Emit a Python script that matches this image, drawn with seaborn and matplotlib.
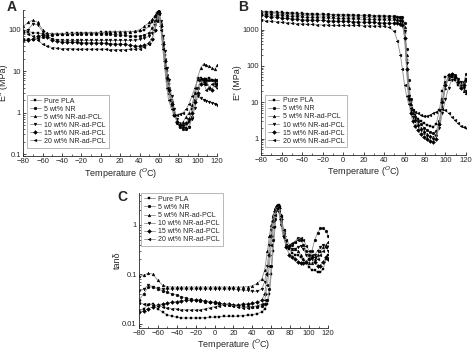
import matplotlib
matplotlib.use('Agg')
import matplotlib.pyplot as plt
import matplotlib.ticker as mticker
import pandas as pd
import seaborn as sns

# Temperature grid (deg C), shared by all curves
temps = [-80, -75, -70, -65, -60, -55, -50, -45, -40, -35, -30, -25, -20, -15, -10, -5, 0, 5, 10, 15, 20,
         25, 30, 35, 40, 45, 50,
         53, 56, 58, 60, 62, 64, 66, 68, 70,
         73, 76, 79, 82, 85, 88, 91, 94, 97, 100, 103, 106, 109, 112, 115, 118, 120]

labels = ['Pure PLA', '5 wt% NR', '5 wt% NR-ad-PCL', '10 wt% NR-ad-PCL', '15 wt% NR-ad-PCL',
          '20 wt% NR-ad-PCL']

# Panel A: loss modulus E'' (MPa)
loss_pla = [95, 90, 85, 82, 80, 80, 80, 80, 80, 81, 82, 83, 84, 85, 85, 85, 86, 87, 88, 88, 89, 89, 90, 90, 92, 100, 120,
            150, 200, 250, 280, 150, 60, 25, 10, 5,
            2, 1, 0.6, 0.45, 0.42, 0.42, 0.6, 1.2, 3, 7, 7, 6, 6.5, 7, 6, 5, 5]
loss_nr5 = [60, 58, 58, 62, 65, 70, 75, 77, 78, 78, 79, 79, 80, 80, 80, 80, 80, 79, 78, 76, 75, 73, 70, 70, 70, 75, 85,
            110, 160, 220, 270, 140, 50, 20, 8, 4,
            1.8, 0.9, 0.55, 0.45, 0.4, 0.4, 0.45, 0.8, 2, 4, 6, 5.5, 5, 6, 6, 5.5, 6]
loss_pcl5 = [120, 150, 170, 150, 100, 82, 80, 80, 80, 80, 80, 81, 82, 83, 84, 85, 85, 86, 88, 89, 90, 90, 90, 92, 100,
             120, 150,
             180, 220, 260, 280, 130, 40, 14, 6, 3,
             1.5, 0.9, 0.6, 0.55, 0.6, 0.8, 1.0, 1.5, 3, 7, 12, 15, 14, 13, 12, 11, 14]
loss_pcl10 = [95, 100, 140, 130, 90, 70, 60, 57, 56, 55, 55, 55, 55, 55, 55, 55, 55, 55, 55, 55, 55, 55, 55, 56, 58, 62,
              70,
              85, 130, 190, 260, 160, 70, 30, 12, 6,
              2.5, 1.2, 0.7, 0.5, 0.42, 0.4, 0.45, 0.7, 1.3, 2.5, 2.2, 2, 1.9, 1.8, 1.7, 1.6, 1.5]
loss_pcl15 = [55, 55, 60, 70, 75, 65, 55, 52, 50, 50, 50, 50, 49, 49, 48, 48, 48, 47, 46, 45, 45, 44, 42, 41, 40, 42, 48,
              60, 100, 170, 250, 120, 45, 18, 7, 3.5,
              1.6, 0.9, 0.6, 0.5, 0.5, 0.55, 0.7, 1.0, 1.8, 3, 5, 6.5, 6, 4, 3.5, 6, 5]
loss_pcl20 = [90, 80, 70, 55, 45, 40, 37, 36, 35, 35, 35, 34, 34, 34, 34, 34, 34, 34, 33, 33, 33, 33, 34, 34, 35, 38, 45,
              60, 100, 160, 240, 100, 35, 12, 4, 2,
              1.2, 0.9, 0.9, 0.95, 1.0, 1.2, 1.6, 2.5, 4, 6, 6.5, 5, 3.5, 4, 5, 4.5, 4]

# Panel B: storage modulus E' (MPa)
stor_pla = [3200, 3150, 3100, 3050, 3000, 2950, 2900, 2850, 2800, 2750, 2700, 2650, 2650, 2600, 2600, 2550, 2550, 2500,
            2500, 2450, 2450, 2400, 2400, 2350, 2350, 2300, 2250,
            2200, 2100, 1800, 800, 150, 25, 10, 6, 4.5,
            3.5, 3, 2.6, 2.4, 2.2, 2.1, 2.5, 6, 20, 50, 55, 50, 40, 30, 25, 28, 45]
stor_nr5 = [3100, 3050, 3000, 2950, 2900, 2850, 2800, 2750, 2750, 2700, 2700, 2650, 2650, 2650, 2600, 2600, 2600, 2550,
            2550, 2500, 2500, 2500, 2450, 2450, 2400, 2400, 2350,
            2300, 2250, 2200, 1500, 300, 40, 12, 6, 4,
            3, 2.5, 2, 1.7, 1.5, 1.4, 1.6, 3, 12, 35, 50, 60, 55, 40, 30, 35, 60]
stor_pcl5 = [2900, 2850, 2800, 2700, 2650, 2600, 2550, 2500, 2450, 2450, 2400, 2400, 2350, 2350, 2300, 2300, 2300, 2250,
             2250, 2200, 2200, 2150, 2150, 2100, 2100, 2050, 2050,
             2000, 1900, 1800, 1200, 200, 25, 9, 5, 3.5,
             2.5, 2, 1.6, 1.3, 1.2, 1.1, 1.3, 2.5, 8, 25, 45, 55, 50, 40, 30, 20, 18]
stor_pcl10 = [2700, 2600, 2500, 2450, 2400, 2350, 2300, 2250, 2200, 2150, 2150, 2100, 2100, 2050, 2050, 2000, 2000, 2000,
              1950, 1950, 1900, 1900, 1900, 1850, 1850, 1800, 1800,
              1750, 1700, 1600, 900, 120, 15, 6, 4, 3,
              2.2, 1.7, 1.4, 1.2, 1.1, 1.0, 1.2, 2, 5, 12, 25, 40, 50, 45, 35, 25, 20]
stor_pcl15 = [2500, 2400, 2300, 2200, 2100, 2050, 2000, 1950, 1900, 1850, 1850, 1800, 1800, 1750, 1750, 1700, 1700, 1700,
              1650, 1650, 1600, 1600, 1600, 1550, 1550, 1500, 1500,
              1500, 1450, 1350, 600, 80, 12, 5, 3, 2.2,
              1.7, 1.3, 1.1, 0.95, 0.85, 0.8, 1.0, 2.5, 10, 30, 55, 60, 50, 35, 25, 30, 40]
stor_pcl20 = [1800, 1750, 1700, 1650, 1600, 1550, 1500, 1450, 1450, 1400, 1400, 1350, 1350, 1350, 1300, 1300, 1300, 1300,
              1300, 1300, 1280, 1280, 1260, 1250, 1250, 1150, 900,
              500, 200, 80, 30, 15, 9, 7, 6, 5.5,
              5, 4.5, 4.2, 4.2, 4.5, 5, 5.5, 6, 6.5, 6, 5, 4, 3.2, 2.6, 2.2, 2.1, 2.0]

# Panel C: tan delta
tan_pla = [0.018, 0.02, 0.024, 0.025, 0.02, 0.017, 0.015, 0.014, 0.0135, 0.013, 0.013, 0.013, 0.013, 0.013, 0.0132,
           0.0134, 0.0135, 0.0138, 0.014, 0.014, 0.014, 0.0142, 0.0145, 0.0148, 0.015, 0.016, 0.017,
           0.02, 0.025, 0.04, 0.1, 0.3, 0.9, 2.0, 2.5, 1.6,
           0.8, 0.45, 0.32, 0.27, 0.25, 0.24, 0.22, 0.2, 0.17, 0.14, 0.12, 0.12, 0.11, 0.11, 0.13, 0.2, 0.25]
tan_nr5 = [0.03, 0.04, 0.055, 0.055, 0.05, 0.046, 0.043, 0.04, 0.038, 0.035, 0.033, 0.031, 0.03, 0.029, 0.028, 0.027,
           0.026, 0.025, 0.025, 0.024, 0.024, 0.023, 0.023, 0.022, 0.022, 0.022, 0.023,
           0.025, 0.03, 0.05, 0.15, 0.5, 1.3, 2.3, 2.4, 1.5,
           0.7, 0.4, 0.35, 0.4, 0.45, 0.55, 0.5, 0.4, 0.3, 0.25, 0.3, 0.5, 0.7, 0.85, 0.85, 0.75, 0.6]
tan_pcl5 = [0.09, 0.095, 0.105, 0.1, 0.075, 0.06, 0.056, 0.055, 0.055, 0.055, 0.055, 0.055, 0.055, 0.055, 0.055, 0.055,
            0.055, 0.055, 0.055, 0.055, 0.055, 0.055, 0.055, 0.056, 0.058, 0.065, 0.08,
            0.12, 0.3, 0.6, 1.0, 1.6, 2.2, 2.5, 2.0, 1.2,
            0.6, 0.4, 0.35, 0.33, 0.33, 0.3, 0.25, 0.2, 0.18, 0.17, 0.17, 0.2, 0.25, 0.3, 0.35, 0.4, 0.45]
tan_pcl10 = [0.045, 0.05, 0.06, 0.056, 0.052, 0.05, 0.05, 0.05, 0.05, 0.05, 0.05, 0.05, 0.05, 0.05, 0.05, 0.05, 0.05,
             0.05, 0.05, 0.05, 0.05, 0.049, 0.048, 0.047, 0.045, 0.045, 0.05,
             0.07, 0.15, 0.4, 0.8, 1.4, 2.0, 2.4, 1.8, 1.0,
             0.55, 0.4, 0.35, 0.33, 0.33, 0.35, 0.38, 0.33, 0.25, 0.2, 0.2, 0.25, 0.3, 0.35, 0.4, 0.35, 0.3]
tan_pcl15 = [0.017, 0.018, 0.02, 0.022, 0.024, 0.025, 0.026, 0.027, 0.028, 0.029, 0.03, 0.03, 0.03, 0.03, 0.029, 0.028,
             0.027, 0.026, 0.025, 0.025, 0.024, 0.024, 0.025, 0.025, 0.026, 0.027, 0.03,
             0.04, 0.1, 0.25, 0.6, 1.2, 1.9, 2.4, 2.2, 1.3,
             0.6, 0.35, 0.25, 0.22, 0.2, 0.18, 0.17, 0.17, 0.18, 0.2, 0.22, 0.18, 0.15, 0.15, 0.18, 0.22, 0.2]
tan_pcl20 = [0.026, 0.025, 0.025, 0.024, 0.023, 0.022, 0.021, 0.02, 0.02, 0.019, 0.019, 0.019, 0.019, 0.019, 0.02,
             0.021, 0.022, 0.023, 0.024, 0.024, 0.023, 0.022, 0.021, 0.021, 0.022, 0.023, 0.025,
             0.03, 0.06, 0.15, 0.4, 0.9, 1.6, 2.2, 2.3, 1.5,
             0.8, 0.5, 0.4, 0.42, 0.45, 0.5, 0.55, 0.5, 0.38, 0.3, 0.25, 0.22, 0.2, 0.25, 0.3, 0.35, 0.38]

markers = ['s', 'o', '^', 'v', 'D', '<']

sns.set_style('ticks')
plt.rcParams['font.family'] = ['Liberation Sans', 'DejaVu Sans']
plt.rcParams['mathtext.fontset'] = 'custom'
plt.rcParams['mathtext.rm'] = 'Liberation Sans'

fig = plt.figure(figsize=(4.74, 3.53), dpi=100)

# axes rectangles (figure fractions)
panels = [
    ('A', [0.049, 0.557, 0.409, 0.415], [loss_pla, loss_nr5, loss_pcl5, loss_pcl10, loss_pcl15, loss_pcl20],
     "E'' (MPa)", (0.088, 300), 'lower left', (0.02, 0.06)),
    ('B', [0.551, 0.562, 0.432, 0.41], [stor_pla, stor_nr5, stor_pcl5, stor_pcl10, stor_pcl15, stor_pcl20],
     "E' (MPa)", (0.36, 3500), 'lower left', (0.02, 0.05)),
    ('C', [0.293, 0.072, 0.399, 0.381], [tan_pla, tan_nr5, tan_pcl5, tan_pcl10, tan_pcl15, tan_pcl20],
     'tan\u03b4', (0.0083, 4.4), 'upper left', (0.01, 1.0)),
]

for letter, rect, series, ylabel, ylim, leg_loc, leg_anchor in panels:
    ax = fig.add_axes(rect)
    for vals, lab, mk in zip(series, labels, markers):
        df = pd.DataFrame({'T': temps, 'v': vals})
        sns.lineplot(data=df, x='T', y='v', ax=ax, color='0.55', linewidth=0.6, marker=mk, markersize=2.0,
                     markerfacecolor='black', markeredgecolor='black', markeredgewidth=0.3, label=lab)
    ax.set_yscale('log')
    ax.set_xlim(-80, 120)
    ax.set_ylim(*ylim)
    ax.xaxis.set_major_locator(mticker.MultipleLocator(20))
    ax.xaxis.set_minor_locator(mticker.MultipleLocator(10))
    ax.yaxis.set_major_formatter(mticker.FuncFormatter(lambda v, p: '{:g}'.format(v)))
    ax.tick_params(which='both', direction='in', labelsize=5.5, pad=1.5)
    ax.tick_params(which='major', length=2.5, width=0.6)
    ax.tick_params(which='minor', length=1.5, width=0.5)
    for s in ['left', 'bottom']:
        ax.spines[s].set_linewidth(0.6)
    sns.despine(ax=ax)
    ax.set_xlabel('Temperature ($^{O}$C)', fontsize=6.5, labelpad=0.5)
    ax.set_ylabel(ylabel, fontsize=6.5, labelpad=0.5)
    leg = ax.legend(loc=leg_loc, bbox_to_anchor=leg_anchor, borderaxespad=0, fontsize=5, frameon=True,
                    fancybox=False, edgecolor='0.6', handlelength=1.6, labelspacing=0.15, borderpad=0.4,
                    handletextpad=0.5)
    leg.get_frame().set_linewidth(0.6)

fig.text(7 / 474, 1 - 7 / 353, 'A', fontsize=10, fontweight='bold', va='center', ha='left')
fig.text(238 / 474, 1 - 7 / 353, 'B', fontsize=10, fontweight='bold', va='center', ha='left')
fig.text(117 / 474, 1 - 197 / 353, 'C', fontsize=10, fontweight='bold', va='center', ha='left')

fig.savefig('out.png', dpi=100)
